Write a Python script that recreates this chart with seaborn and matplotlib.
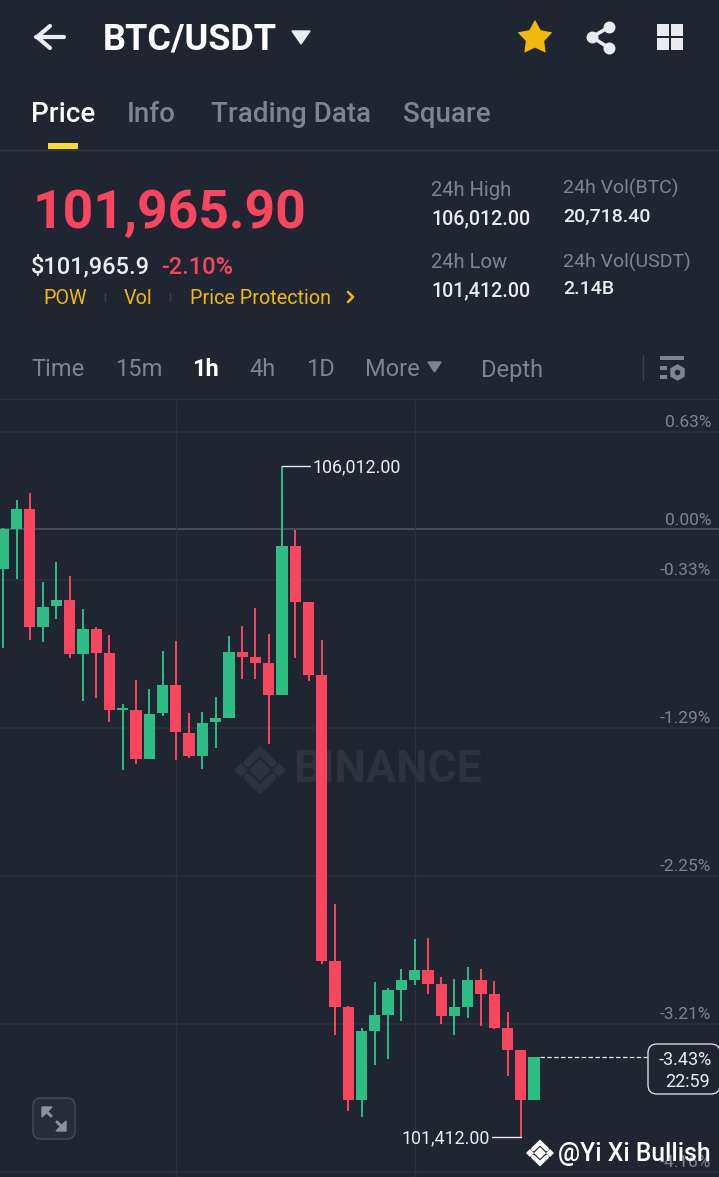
import numpy as np
import pandas as pd
import matplotlib
matplotlib.use("Agg")
import matplotlib.pyplot as plt
from matplotlib.patches import FancyBboxPatch, Rectangle, Polygon
from matplotlib.transforms import blended_transform_factory
import seaborn as sns

# hourly candles
opens = [105304, 105580, 105715, 104908, 105050, 105093, 104725, 104896, 104728, 104341,
         104341, 104005, 104318, 104508, 104186, 104026, 104255, 104284, 104735, 104702,
         104661, 104442, 105463, 105082, 104579, 102620, 102305, 101672, 102143, 102253,
         102424, 102488, 102559, 102463, 102243, 102308, 102493, 102397, 102159, 102010, 101670]
highs = [105587, 105779, 105825, 105215, 105352, 105256, 105029, 104908, 104851, 104378,
         104545, 104481, 104744, 104812, 104318, 104327, 104430, 104846, 104917, 105036,
         104858, 106012, 105573, 105082, 104819, 103014, 102314, 102159, 102474, 102433,
         102568, 102774, 102778, 102511, 102495, 102582, 102568, 102486, 102269, 102010, 101966]
lows = [104762, 105235, 104817, 104807, 104963, 104694, 104401, 104421, 104255, 103930,
        103971, 104005, 104298, 104001, 104012, 103935, 104079, 104284, 104554, 104552,
        104104, 104442, 104698, 104540, 102600, 102116, 101595, 101551, 101910, 101948,
        102207, 102456, 102394, 102191, 102113, 102230, 102177, 102155, 101830, 101412, 101670]
closes = [105580, 105715, 104908, 105047, 105093, 104725, 104896, 104732, 104341, 104355,
          104005, 104316, 104508, 104188, 104026, 104252, 104282, 104735, 104704, 104663,
          104442, 105463, 105082, 104579, 102620, 102305, 101672, 102143, 102253, 102424,
          102488, 102559, 102463, 102243, 102308, 102493, 102397, 102159, 102010, 101670, 101966]

base_price = 105580
pct_ticks = [0.63, -0.33, -1.29, -2.25, -3.21, -4.17]
pct_labels = ["0.63%", "-0.33%", "-1.29%", "-2.25%", "-3.21%", "-4.16%"]
tabs = ["Price", "Info", "Trading Data", "Square"]
intervals = ["Time", "15m", "1h", "4h", "1D", "More", "Depth"]

BG = "#1f2631"
GREEN = "#2ebd85"
RED = "#f9465f"
GREY = "#7d8593"
GRID = "#2b323d"
GOLD = "#f0b90b"
WHITE = "#eaecef"

sns.set_theme(style="dark")
plt.rcParams["font.family"] = ["Roboto", "DejaVu Sans"]

df = pd.DataFrame({"i": np.arange(len(opens)), "open": opens, "high": highs, "low": lows, "close": closes})
df["up"] = df["close"] >= df["open"]
df["bottom"] = df[["open", "close"]].min(axis=1)
df["body"] = (df["open"] - df["close"]).abs()

W, H = 719, 1177
fig = plt.figure(figsize=(W / 100, H / 100), dpi=100, facecolor=BG)

# chart area: everything below the interval bar
ax = fig.add_axes([0, 0, 1, (H - 399) / H], facecolor=BG)
px_price = 6.85
ax.set_ylim(base_price - (H - 529) * px_price, base_price + (529 - 399) * px_price)

for pct in pct_ticks:
    ax.axhline(base_price * (1 + pct / 100), color=GRID, lw=1.1, zorder=0)
ax.axhline(base_price, color="#4a505b", lw=1.3, zorder=0)
ax.axvline(13.0, color=GRID, lw=1.0, zorder=0)
ax.axvline(31.0, color=GRID, lw=1.0, zorder=0)

# watermark sits under the candles
ax.text(293 / 13.27 - 0.25, base_price - (770 - 529) * px_price, "BINANCE", color="#2c333e",
        fontsize=32, fontweight="bold", va="center", zorder=0.5)

for up, color in [(True, GREEN), (False, RED)]:
    sub = df[df["up"] == up]
    ax.vlines(sub["i"], sub["low"], sub["high"], color=color, lw=1.4, zorder=2)
    sns.barplot(data=sub, x="i", y="body", bottom=sub["bottom"].values, native_scale=True,
                color=color, saturation=1, width=0.85, errorbar=None, linewidth=0, ax=ax, zorder=3)

ax.set_xlim(-3.3 / 13.27, (W - 3.3) / 13.27)
ax.set_ylim(base_price - (H - 529) * px_price, base_price + (529 - 399) * px_price)
ax.set_xlabel("")
ax.set_ylabel("")
ax.set_xticks([])
ax.set_yticks([])
sns.despine(ax=ax, left=True, bottom=True)

# percent labels on the right, just above their lines
tr = blended_transform_factory(ax.transAxes, ax.transData)
right = 711 / W
for pct, lab in zip(pct_ticks, pct_labels):
    ax.text(right, base_price * (1 + pct / 100) + 1.5 * px_price, lab, transform=tr, ha="right", va="bottom",
            color=GREY, fontsize=12.5)
ax.text(right, base_price + 1.5 * px_price, "0.00%", transform=tr, ha="right", va="bottom", color=GREY, fontsize=12.5)

# high / low callouts
hi = df["high"].idxmax()
lo = df["low"].idxmin()
ax.plot([hi, hi + 2.1], [highs[hi], highs[hi]], color=WHITE, lw=1.0, zorder=4)
ax.text(hi + 2.28, highs[hi] - 1 * px_price, "106,012.00", color=WHITE, fontsize=12.9, va="center")
ax.plot([lo - 2.2, lo], [lows[lo], lows[lo]], color=WHITE, lw=1.0, zorder=4)
ax.text(lo - 2.37, lows[lo] - 1 * px_price, "101,412.00", color=WHITE, fontsize=12.9, va="center", ha="right")

# last price dashed line
ax.plot([40.45, 48.5], [closes[-1], closes[-1]], color=WHITE, lw=0.9, ls=(0, (3.5, 2)), zorder=4)

# top layer in screen pixels for the app chrome
ui = fig.add_axes([0, 0, 1, 1], facecolor="none")
ui.set_xlim(0, W)
ui.set_ylim(H, 0)
ui.axis("off")


def label(x, y, s, color=WHITE, size=14, weight="normal", ha="left"):
    ui.text(x, y + 2, s, color=color, fontsize=size, fontweight=weight, ha=ha, va="center")


def logo(x, y, r, color):
    ui.plot([x], [y], marker="D", ms=r * 0.55, color=color, mew=0)
    for dx, dy in [(-r, 0), (r, 0)]:
        ui.plot([x + dx * 0.95], [y + dy], marker="D", ms=r * 0.38, color=color, mew=0)
    for sgn in (-1, 1):
        ui.plot([x - r * 0.62, x, x + r * 0.62], [y + sgn * r * 0.35, y + sgn * r * 0.95, y + sgn * r * 0.35],
                color=color, lw=r * 0.28, solid_joinstyle="miter")


# header
ui.plot([36, 64], [37, 37], color=WHITE, lw=3)
ui.plot([50, 37, 50], [26, 37, 48], color=WHITE, lw=3, solid_joinstyle="miter")
label(103, 37, "BTC/USDT", "white", 26, "bold")
ui.add_patch(Polygon([[292, 31], [310, 31], [301, 44]], closed=True, color=WHITE))
ang = np.deg2rad(-90 + 36 * np.arange(10))
rad = np.where(np.arange(10) % 2 == 0, 16, 8.5)
ui.add_patch(Polygon(np.c_[535 + rad * np.cos(ang), 38 + rad * np.sin(ang)], closed=True, color=GOLD, lw=1.5))
ui.plot([609, 592, 609], [27, 37, 48], color=WHITE, lw=2.6)
ui.plot([592, 609, 609], [37, 27, 48], ls="", marker="o", ms=8.6, color=WHITE, mew=0)
for gx in (657, 671):
    for gy in (24, 38):
        ui.add_patch(Rectangle((gx, gy), 12, 12, color=WHITE, lw=0))

# tabs
for x, s, c in zip([31, 127, 211, 403], tabs, ["white", GREY, GREY, GREY]):
    label(x, 113, s, c, 20, "medium")
ui.add_patch(Rectangle((48, 143), 30, 5.5, color="#fcd535", lw=0))
ui.plot([0, W], [149.5, 149.5], color="#323944", lw=1)

# price block
label(33, 211, "101,965.90", RED, 38.5, "bold")
label(31, 265, "$101,965.9", WHITE, 17, "medium")
label(161, 265, "-2.10%", RED, 17, "medium")
label(43, 296, "POW", GOLD, 14.2)
label(124, 296, "Vol", GOLD, 14.2)
label(190, 296, "Price Protection", GOLD, 14.2)
ui.plot([348, 353, 348], [292, 297, 302], color=GOLD, lw=1.8)
for x in (105, 170):
    ui.plot([x, x], [293, 301], color="#3a414c", lw=1)

label(431, 189, "24h High", GREY, 14.5)
label(431, 217, "106,012.00", WHITE, 14.2, "medium")
label(431, 261, "24h Low", GREY, 14.5)
label(431, 289, "101,412.00", WHITE, 14.2, "medium")
label(563, 186, "24h Vol(BTC)", GREY, 14)
label(563, 215, "20,718.40", WHITE, 14, "medium")
label(563, 260, "24h Vol(USDT)", GREY, 14)
label(563, 287, "2.14B", WHITE, 14, "medium")

# interval bar
for x, s in zip([31, 115, 192, 249, 306, 365, 481], intervals):
    if s == "1h":
        label(x, 368, s, "white", 17, "bold")
    else:
        label(x, 368, s, GREY, 17)
ui.add_patch(Polygon([[428, 362], [441, 362], [434.5, 372]], closed=True, color=GREY))
ui.plot([643, 643], [355, 380], color="#3a414c", lw=1)
ui.add_patch(Rectangle((660, 356), 24, 3.5, color=GREY, lw=0))
for yy in (366, 375):
    ui.add_patch(Rectangle((660, yy), 7, 3.5, color=GREY, lw=0))
ui.plot([677], [372], marker="h", ms=12, color=GREY, mew=0)
ui.plot([677], [372], marker="o", ms=4, color=BG, mew=0)
ui.plot([0, W], [398.5, 398.5], color="#2b323d", lw=1)

# current price tag
ui.add_patch(FancyBboxPatch((648, 1044), 72, 50, boxstyle="round,pad=0,rounding_size=9",
                            fc=BG, ec=WHITE, lw=0.9, zorder=5))
ui.text(712, 1060, "-3.43%", color=WHITE, fontsize=13, ha="right", va="center", zorder=6)
ui.text(710, 1082, "22:59", color=WHITE, fontsize=13, ha="right", va="center", zorder=6)

# expand button
ui.add_patch(FancyBboxPatch((33, 1098), 42, 41, boxstyle="round,pad=0,rounding_size=8",
                            fc="#262d38", ec="#474d57", lw=1))
ui.plot([46, 51], [1111, 1116], color="#8a919e", lw=2.2)
ui.plot([57, 62], [1122, 1127], color="#8a919e", lw=2.2)
ui.add_patch(Polygon([[42, 1107], [52, 1107], [42, 1117]], closed=True, color="#8a919e"))
ui.add_patch(Polygon([[66, 1131], [56, 1131], [66, 1121]], closed=True, color="#8a919e"))

# watermark logo and the poster's tag
logo(260, 770, 20, "#2c333e")
logo(540, 1153, 11, "white")
label(558, 1152, "@Yi Xi Bullish", "white", 17.8, "medium")

fig.savefig("out.png", dpi=100, facecolor=BG)
